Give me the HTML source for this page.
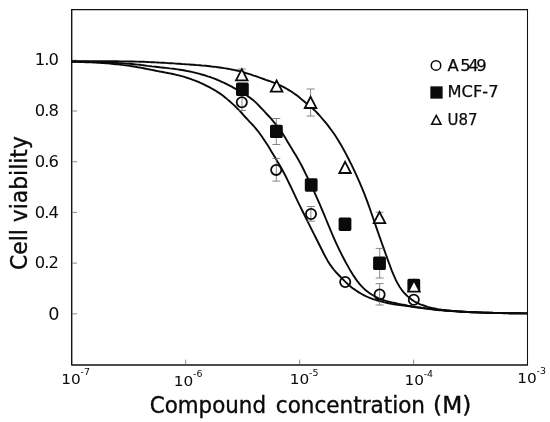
<!DOCTYPE html>
<html lang="en">
<head>
<meta charset="utf-8">
<title>Cell viability vs compound concentration</title>
<style>
html,body{margin:0;padding:0;background:#fff}
svg{display:block}
text{white-space:pre}
</style>
</head>
<body>
<svg width="550" height="422" viewBox="0 0 550 422">
<rect width="550" height="422" fill="#fff"/>
<g fill="none" stroke="#111" stroke-linejoin="round">
<path d="M71.7,9.6 H527.5 V365" stroke-width="1.05"/>
<path d="M71.7,9.1 V365 H528" stroke-width="1.4"/>
</g>
<g stroke="#5a5a5a" stroke-width="0.7" fill="none">
<path d="M72.4,60.3 H77"/>
<path d="M72.4,111.0 H77"/>
<path d="M72.4,161.7 H77"/>
<path d="M72.4,212.4 H77"/>
<path d="M72.4,263.1 H77"/>
<path d="M72.4,313.8 H77"/>
<path d="M185.7,359.6 V364.4"/>
<path d="M299.6,359.6 V364.4"/>
<path d="M413.6,359.6 V364.4"/>
</g>
<g fill="none" stroke="#0a0a0a" stroke-width="1.9" stroke-linejoin="round">
<path d="M71.7,61.8 L73.7,61.8 L75.7,61.9 L77.7,61.9 L79.7,62.0 L81.7,62.0 L83.7,62.1 L85.7,62.2 L87.7,62.2 L89.7,62.3 L91.7,62.4 L93.7,62.5 L95.7,62.6 L97.7,62.8 L99.7,62.9 L101.7,63.0 L103.7,63.1 L105.7,63.3 L107.7,63.4 L109.7,63.6 L111.7,63.8 L113.7,64.0 L115.7,64.2 L117.7,64.4 L119.7,64.6 L121.7,64.9 L123.7,65.1 L125.7,65.4 L127.7,65.6 L129.7,65.9 L131.7,66.2 L133.7,66.5 L135.7,66.8 L137.7,67.2 L139.7,67.5 L141.7,67.9 L143.7,68.3 L145.7,68.7 L147.7,69.1 L149.7,69.5 L151.7,69.9 L153.7,70.3 L155.7,70.7 L157.7,71.1 L159.7,71.5 L161.7,71.8 L163.7,72.2 L165.7,72.6 L167.7,73.0 L169.7,73.4 L171.7,73.8 L173.7,74.2 L175.7,74.7 L177.7,75.1 L179.7,75.6 L181.7,76.2 L183.7,76.7 L185.7,77.3 L187.7,78.0 L189.7,78.6 L191.7,79.4 L193.7,80.1 L195.7,80.9 L197.7,81.7 L199.7,82.5 L201.7,83.4 L203.7,84.3 L205.7,85.3 L207.7,86.3 L209.7,87.4 L211.7,88.5 L213.7,89.6 L215.7,90.8 L217.7,92.1 L219.7,93.4 L221.7,94.8 L223.7,96.3 L225.7,97.9 L227.7,99.6 L229.7,101.3 L231.7,103.1 L233.7,104.9 L235.7,106.8 L237.7,108.8 L239.7,110.8 L241.7,113.0 L243.7,115.3 L245.7,117.5 L247.7,119.7 L249.7,121.8 L251.7,123.9 L253.7,126.0 L255.7,128.4 L257.7,130.8 L259.7,133.5 L261.7,136.3 L263.7,139.2 L265.7,142.2 L267.7,145.3 L269.7,148.6 L271.7,151.9 L273.7,155.3 L275.7,158.6 L277.7,162.0 L279.7,165.3 L281.7,168.8 L283.7,172.5 L285.7,176.3 L287.7,180.3 L289.7,184.5 L291.7,188.7 L293.7,192.9 L295.7,197.1 L297.7,201.3 L299.7,205.4 L301.7,209.5 L303.7,213.5 L305.7,217.6 L307.7,221.6 L309.7,225.6 L311.7,229.6 L313.7,233.6 L315.7,237.5 L317.7,241.5 L319.7,245.5 L321.7,249.5 L323.7,253.5 L325.7,257.3 L327.7,260.9 L329.7,264.1 L331.7,266.9 L333.7,269.5 L335.7,271.8 L337.7,274.0 L339.7,276.0 L341.7,278.1 L343.7,280.1 L345.7,282.1 L347.7,284.0 L349.7,285.8 L351.7,287.4 L353.7,288.9 L355.7,290.3 L357.7,291.6 L359.7,292.9 L361.7,294.0 L363.7,295.1 L365.7,296.1 L367.7,297.0 L369.7,297.9 L371.7,298.6 L373.7,299.3 L375.7,299.9 L377.7,300.5 L379.7,301.0 L381.7,301.5 L383.7,302.1 L385.7,302.6 L387.7,303.0 L389.7,303.5 L391.7,303.9 L393.7,304.2 L395.7,304.5 L397.7,304.8 L399.7,305.0 L401.7,305.2 L403.7,305.5 L405.7,305.7 L407.7,306.0 L409.7,306.3 L411.7,306.7 L413.7,307.0 L415.7,307.3 L417.7,307.6 L419.7,307.8 L421.7,308.1 L423.7,308.3 L425.7,308.6 L427.7,308.8 L429.7,309.1 L431.7,309.3 L433.7,309.5 L435.7,309.8 L437.7,310.0 L439.7,310.2 L441.7,310.3 L443.7,310.5 L445.7,310.7 L447.7,310.8 L449.7,311.0 L451.7,311.1 L453.7,311.3 L455.7,311.4 L457.7,311.5 L459.7,311.7 L461.7,311.8 L463.7,311.9 L465.7,312.0 L467.7,312.1 L469.7,312.2 L471.7,312.3 L473.7,312.3 L475.7,312.4 L477.7,312.5 L479.7,312.6 L481.7,312.6 L483.7,312.7 L485.7,312.8 L487.7,312.8 L489.7,312.9 L491.7,312.9 L493.7,313.0 L495.7,313.0 L497.7,313.1 L499.7,313.1 L501.7,313.1 L503.7,313.2 L505.7,313.2 L507.7,313.2 L509.7,313.2 L511.7,313.3 L513.7,313.3 L515.7,313.3 L517.7,313.3 L519.7,313.4 L521.7,313.4 L523.7,313.4 L525.7,313.4 L527.5,313.4"/>
<path d="M71.7,61.6 L73.7,61.6 L75.7,61.6 L77.7,61.6 L79.7,61.7 L81.7,61.7 L83.7,61.7 L85.7,61.8 L87.7,61.8 L89.7,61.9 L91.7,61.9 L93.7,62.0 L95.7,62.0 L97.7,62.1 L99.7,62.1 L101.7,62.2 L103.7,62.3 L105.7,62.3 L107.7,62.4 L109.7,62.5 L111.7,62.6 L113.7,62.7 L115.7,62.8 L117.7,63.0 L119.7,63.1 L121.7,63.2 L123.7,63.4 L125.7,63.5 L127.7,63.7 L129.7,63.8 L131.7,64.0 L133.7,64.2 L135.7,64.4 L137.7,64.6 L139.7,64.8 L141.7,65.1 L143.7,65.3 L145.7,65.6 L147.7,65.9 L149.7,66.1 L151.7,66.4 L153.7,66.6 L155.7,66.8 L157.7,67.0 L159.7,67.3 L161.7,67.5 L163.7,67.7 L165.7,67.9 L167.7,68.1 L169.7,68.4 L171.7,68.6 L173.7,68.8 L175.7,69.1 L177.7,69.4 L179.7,69.7 L181.7,70.0 L183.7,70.3 L185.7,70.7 L187.7,71.1 L189.7,71.5 L191.7,71.9 L193.7,72.4 L195.7,72.9 L197.7,73.4 L199.7,73.9 L201.7,74.5 L203.7,75.0 L205.7,75.6 L207.7,76.3 L209.7,76.9 L211.7,77.7 L213.7,78.4 L215.7,79.2 L217.7,80.0 L219.7,80.9 L221.7,81.8 L223.7,82.7 L225.7,83.7 L227.7,84.7 L229.7,85.7 L231.7,86.7 L233.7,87.8 L235.7,88.9 L237.7,90.0 L239.7,91.1 L241.7,92.3 L243.7,93.5 L245.7,94.8 L247.7,96.1 L249.7,97.5 L251.7,99.0 L253.7,100.6 L255.7,102.4 L257.7,104.4 L259.7,106.5 L261.7,108.6 L263.7,110.7 L265.7,112.8 L267.7,115.0 L269.7,117.2 L271.7,119.4 L273.7,121.8 L275.7,124.2 L277.7,126.7 L279.7,129.3 L281.7,132.1 L283.7,135.2 L285.7,138.5 L287.7,141.9 L289.7,145.3 L291.7,148.6 L293.7,151.9 L295.7,155.1 L297.7,158.5 L299.7,162.1 L301.7,165.8 L303.7,169.7 L305.7,173.8 L307.7,177.9 L309.7,182.1 L311.7,186.4 L313.7,190.7 L315.7,195.1 L317.7,199.6 L319.7,204.2 L321.7,208.9 L323.7,213.7 L325.7,218.5 L327.7,223.4 L329.7,228.2 L331.7,233.0 L333.7,237.6 L335.7,242.1 L337.7,246.4 L339.7,250.6 L341.7,254.6 L343.7,258.5 L345.7,262.3 L347.7,265.9 L349.7,269.4 L351.7,272.7 L353.7,275.9 L355.7,278.9 L357.7,281.7 L359.7,284.2 L361.7,286.4 L363.7,288.4 L365.7,290.2 L367.7,291.7 L369.7,293.2 L371.7,294.5 L373.7,295.7 L375.7,296.9 L377.7,297.9 L379.7,298.7 L381.7,299.5 L383.7,300.2 L385.7,300.8 L387.7,301.3 L389.7,301.8 L391.7,302.3 L393.7,302.8 L395.7,303.2 L397.7,303.7 L399.7,304.1 L401.7,304.5 L403.7,304.8 L405.7,305.2 L407.7,305.6 L409.7,305.9 L411.7,306.3 L413.7,306.6 L415.7,306.9 L417.7,307.2 L419.7,307.5 L421.7,307.8 L423.7,308.0 L425.7,308.3 L427.7,308.6 L429.7,308.8 L431.7,309.1 L433.7,309.3 L435.7,309.5 L437.7,309.8 L439.7,310.0 L441.7,310.1 L443.7,310.3 L445.7,310.5 L447.7,310.7 L449.7,310.8 L451.7,311.0 L453.7,311.1 L455.7,311.3 L457.7,311.4 L459.7,311.5 L461.7,311.7 L463.7,311.8 L465.7,311.9 L467.7,312.0 L469.7,312.1 L471.7,312.2 L473.7,312.2 L475.7,312.3 L477.7,312.4 L479.7,312.5 L481.7,312.5 L483.7,312.6 L485.7,312.7 L487.7,312.7 L489.7,312.8 L491.7,312.8 L493.7,312.9 L495.7,312.9 L497.7,313.0 L499.7,313.0 L501.7,313.0 L503.7,313.1 L505.7,313.1 L507.7,313.1 L509.7,313.2 L511.7,313.2 L513.7,313.2 L515.7,313.3 L517.7,313.3 L519.7,313.3 L521.7,313.3 L523.7,313.4 L525.7,313.4 L527.5,313.4"/>
<path d="M71.7,61.2 L73.7,61.2 L75.7,61.2 L77.7,61.2 L79.7,61.2 L81.7,61.2 L83.7,61.2 L85.7,61.2 L87.7,61.2 L89.7,61.2 L91.7,61.2 L93.7,61.2 L95.7,61.2 L97.7,61.2 L99.7,61.2 L101.7,61.2 L103.7,61.3 L105.7,61.3 L107.7,61.3 L109.7,61.3 L111.7,61.3 L113.7,61.3 L115.7,61.3 L117.7,61.3 L119.7,61.4 L121.7,61.4 L123.7,61.4 L125.7,61.4 L127.7,61.4 L129.7,61.5 L131.7,61.5 L133.7,61.5 L135.7,61.6 L137.7,61.6 L139.7,61.7 L141.7,61.8 L143.7,61.8 L145.7,61.9 L147.7,62.0 L149.7,62.1 L151.7,62.2 L153.7,62.3 L155.7,62.4 L157.7,62.5 L159.7,62.6 L161.7,62.7 L163.7,62.8 L165.7,62.9 L167.7,63.1 L169.7,63.2 L171.7,63.3 L173.7,63.4 L175.7,63.6 L177.7,63.7 L179.7,63.8 L181.7,64.0 L183.7,64.1 L185.7,64.3 L187.7,64.4 L189.7,64.5 L191.7,64.7 L193.7,64.8 L195.7,65.0 L197.7,65.1 L199.7,65.3 L201.7,65.5 L203.7,65.6 L205.7,65.8 L207.7,66.0 L209.7,66.2 L211.7,66.5 L213.7,66.7 L215.7,66.9 L217.7,67.2 L219.7,67.5 L221.7,67.8 L223.7,68.1 L225.7,68.4 L227.7,68.7 L229.7,69.1 L231.7,69.5 L233.7,69.8 L235.7,70.3 L237.7,70.7 L239.7,71.2 L241.7,71.7 L243.7,72.3 L245.7,73.0 L247.7,73.6 L249.7,74.2 L251.7,74.9 L253.7,75.6 L255.7,76.2 L257.7,76.9 L259.7,77.6 L261.7,78.3 L263.7,79.0 L265.7,79.8 L267.7,80.5 L269.7,81.2 L271.7,81.9 L273.7,82.7 L275.7,83.5 L277.7,84.3 L279.7,85.2 L281.7,86.1 L283.7,87.1 L285.7,88.2 L287.7,89.4 L289.7,90.6 L291.7,91.8 L293.7,93.2 L295.7,94.6 L297.7,96.1 L299.7,97.7 L301.7,99.4 L303.7,101.0 L305.7,102.7 L307.7,104.4 L309.7,106.0 L311.7,107.7 L313.7,109.5 L315.7,111.4 L317.7,113.5 L319.7,115.7 L321.7,118.0 L323.7,120.3 L325.7,122.7 L327.7,125.2 L329.7,127.8 L331.7,130.5 L333.7,133.3 L335.7,136.3 L337.7,139.4 L339.7,142.7 L341.7,146.1 L343.7,149.7 L345.7,153.4 L347.7,157.3 L349.7,161.2 L351.7,165.2 L353.7,169.4 L355.7,173.7 L357.7,178.1 L359.7,182.6 L361.7,187.3 L363.7,192.2 L365.7,197.4 L367.7,202.7 L369.7,208.3 L371.7,214.0 L373.7,219.8 L375.7,225.6 L377.7,231.4 L379.7,237.1 L381.7,242.8 L383.7,248.4 L385.7,254.0 L387.7,259.6 L389.7,265.0 L391.7,270.3 L393.7,275.2 L395.7,279.7 L397.7,283.6 L399.7,287.0 L401.7,289.8 L403.7,292.3 L405.7,294.5 L407.7,296.4 L409.7,298.1 L411.7,299.6 L413.7,301.0 L415.7,302.2 L417.7,303.2 L419.7,304.1 L421.7,304.8 L423.7,305.5 L425.7,306.2 L427.7,306.8 L429.7,307.3 L431.7,307.8 L433.7,308.3 L435.7,308.7 L437.7,309.1 L439.7,309.4 L441.7,309.7 L443.7,309.9 L445.7,310.2 L447.7,310.4 L449.7,310.6 L451.7,310.8 L453.7,310.9 L455.7,311.1 L457.7,311.3 L459.7,311.4 L461.7,311.5 L463.7,311.7 L465.7,311.8 L467.7,311.9 L469.7,312.0 L471.7,312.1 L473.7,312.2 L475.7,312.3 L477.7,312.3 L479.7,312.4 L481.7,312.5 L483.7,312.6 L485.7,312.6 L487.7,312.7 L489.7,312.7 L491.7,312.8 L493.7,312.9 L495.7,312.9 L497.7,312.9 L499.7,313.0 L501.7,313.0 L503.7,313.1 L505.7,313.1 L507.7,313.1 L509.7,313.2 L511.7,313.2 L513.7,313.2 L515.7,313.3 L517.7,313.3 L519.7,313.3 L521.7,313.4 L523.7,313.4 L525.7,313.4 L527.5,313.4"/>
</g>
<g stroke="#6a6a6a" stroke-width="0.8" fill="none">
<path d="M242.0,94.6 V110.5 M238.0,94.6 h8 M238.0,110.5 h8"/>
<path d="M241.9,69.0 V80.0 M237.9,69.0 h8 M237.9,80.0 h8"/>
<path d="M276.3,118.5 V144.5 M272.3,118.5 h8 M272.3,144.5 h8"/>
<path d="M276.3,158.4 V181.1 M272.3,158.4 h8 M272.3,181.1 h8"/>
<path d="M310.6,89.0 V116.0 M306.6,89.0 h8 M306.6,116.0 h8"/>
<path d="M310.9,206.5 V221.2 M306.9,206.5 h8 M306.9,221.2 h8"/>
<path d="M379.5,212.2 V223.0 M375.5,212.2 h8 M375.5,223.0 h8"/>
<path d="M379.7,248.4 V278.0 M375.7,248.4 h8 M375.7,278.0 h8"/>
<path d="M379.6,283.6 V305.0 M375.6,283.6 h8 M375.6,305.0 h8"/>
</g>
<g stroke="#0a0a0a" stroke-width="1.6">
<circle cx="241.8" cy="102.3" r="5.1" fill="none" stroke-width="1.8"/>
<circle cx="276.2" cy="169.9" r="5.1" fill="none" stroke-width="1.8"/>
<circle cx="311.0" cy="214.0" r="5.1" fill="none" stroke-width="1.8"/>
<circle cx="345.2" cy="282.0" r="5.1" fill="none" stroke-width="1.8"/>
<circle cx="379.6" cy="294.5" r="5.1" fill="none" stroke-width="1.8"/>
<circle cx="413.8" cy="299.7" r="5.1" fill="none" stroke-width="1.8"/>
<rect x="236.8" y="83.4" width="11.2" height="11.8" rx="0.8" fill="#0a0a0a" stroke-linejoin="round"/>
<rect x="270.8" y="125.5" width="11.2" height="11.8" rx="0.8" fill="#0a0a0a" stroke-linejoin="round"/>
<rect x="305.6" y="179.1" width="11.2" height="11.8" rx="0.8" fill="#0a0a0a" stroke-linejoin="round"/>
<rect x="339.4" y="218.3" width="11.2" height="11.8" rx="0.8" fill="#0a0a0a" stroke-linejoin="round"/>
<rect x="373.9" y="257.4" width="11.2" height="11.8" rx="0.8" fill="#0a0a0a" stroke-linejoin="round"/>
<rect x="408.2" y="279.5" width="11.2" height="11.8" rx="0.8" fill="#0a0a0a" stroke-linejoin="round"/>
<path d="M241.8,69.2 L247.6,80.4 L236.0,80.4 Z" fill="#fff" stroke-width="1.8" stroke-linejoin="miter"/>
<path d="M276.6,80.5 L282.4,91.7 L270.8,91.7 Z" fill="#fff" stroke-width="1.8" stroke-linejoin="miter"/>
<path d="M310.6,96.8 L316.4,108.0 L304.8,108.0 Z" fill="#fff" stroke-width="1.8" stroke-linejoin="miter"/>
<path d="M345.1,161.8 L350.9,173.0 L339.3,173.0 Z" fill="#fff" stroke-width="1.8" stroke-linejoin="miter"/>
<path d="M379.5,212.0 L385.3,223.2 L373.7,223.2 Z" fill="#fff" stroke-width="1.8" stroke-linejoin="miter"/>
<path d="M414.0,280.4 L419.8,291.6 L408.2,291.6 Z" fill="#fff" stroke-width="1.8" stroke-linejoin="miter"/>
</g>
<g stroke="#0a0a0a" stroke-width="1.5">
<circle cx="436" cy="65.4" r="4.75" fill="none"/>
<rect x="431.1" y="87.1" width="10.8" height="10.8" fill="#0a0a0a"/>
<path d="M436.3,115.3 L441,124.3 L431.6,124.3 Z" fill="#fff"/>
</g>
<g font-family="'DejaVu Sans','Liberation Sans',sans-serif" fill="#0a0a0a" stroke="#0a0a0a" stroke-width="0.25">
<text x="447.4" y="70.5" font-size="16.4" dx="0 1.7 -2.5 -2.5">A549</text>
<text x="447.5" y="97.4" font-size="16.4" textLength="51" lengthAdjust="spacingAndGlyphs">MCF-7</text>
<text x="447.6" y="124.7" font-size="16.4" textLength="30" lengthAdjust="spacingAndGlyphs">U87</text>
</g>
<g font-family="'DejaVu Sans','Liberation Sans',sans-serif" fill="#0a0a0a">
<text x="59.0" y="65.2" font-size="16.4" text-anchor="end" dx="0 -0.9 -0.9">1.0</text>
<text x="59.0" y="115.9" font-size="16.4" text-anchor="end" dx="0 -0.9 -0.9">0.8</text>
<text x="59.0" y="166.5" font-size="16.4" text-anchor="end" dx="0 -0.9 -0.9">0.6</text>
<text x="59.0" y="217.7" font-size="16.4" text-anchor="end" dx="0 -0.9 -0.9">0.4</text>
<text x="59.0" y="268.4" font-size="16.4" text-anchor="end" dx="0 -0.9 -0.9">0.2</text>
<text x="59.4" y="319.6" font-size="17.7" text-anchor="end">0</text>
<text x="61.3" y="383.7" font-size="14.8"><tspan textLength="19.5" lengthAdjust="spacingAndGlyphs">10</tspan><tspan dy="-8.7" dx="-0.2" font-size="8.7" textLength="9.4" lengthAdjust="spacingAndGlyphs">-7</tspan></text>
<text x="173.7" y="385.7" font-size="14.8"><tspan textLength="19.5" lengthAdjust="spacingAndGlyphs">10</tspan><tspan dy="-8.7" dx="-0.2" font-size="8.7" textLength="9.4" lengthAdjust="spacingAndGlyphs">-6</tspan></text>
<text x="289.8" y="384.4" font-size="14.8"><tspan textLength="19.5" lengthAdjust="spacingAndGlyphs">10</tspan><tspan dy="-8.7" dx="-0.2" font-size="8.7" textLength="9.4" lengthAdjust="spacingAndGlyphs">-5</tspan></text>
<text x="404.4" y="385.4" font-size="14.8"><tspan textLength="19.5" lengthAdjust="spacingAndGlyphs">10</tspan><tspan dy="-8.7" dx="-0.2" font-size="8.7" textLength="9.4" lengthAdjust="spacingAndGlyphs">-4</tspan></text>
<text x="517.3" y="382.7" font-size="14.8"><tspan textLength="19.5" lengthAdjust="spacingAndGlyphs">10</tspan><tspan dy="-8.7" dx="-0.2" font-size="8.7" textLength="9.4" lengthAdjust="spacingAndGlyphs">-3</tspan></text>
</g>
<g font-family="'DejaVu Sans Condensed','DejaVu Sans','Liberation Sans',sans-serif" fill="#0a0a0a" stroke="#0a0a0a" stroke-width="0.35">
<text x="149.7" y="413.3" font-size="23" textLength="116.3" lengthAdjust="spacingAndGlyphs">Compound</text>
<text x="275.8" y="413.3" font-size="23" textLength="149.2" lengthAdjust="spacingAndGlyphs">concentration</text>
<text x="433.1" y="413.3" font-size="23" textLength="38.2" lengthAdjust="spacingAndGlyphs">(M)</text>
<text transform="translate(26.6,270.1) rotate(-90)" font-size="23.3" textLength="134" lengthAdjust="spacingAndGlyphs">Cell viability</text>
</g>
</svg>
</body>
</html>
